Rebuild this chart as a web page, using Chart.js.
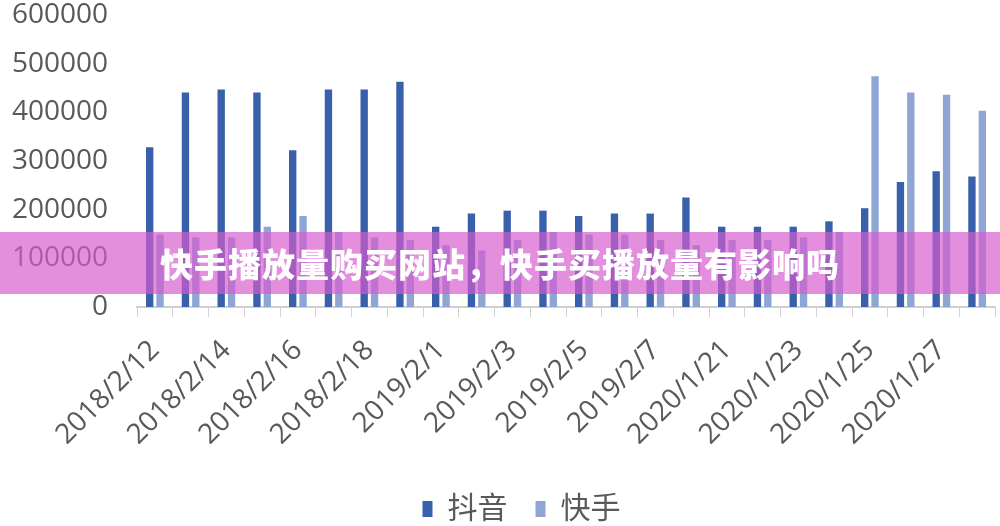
<!DOCTYPE html>
<html>
<head>
<meta charset="utf-8">
<script src="https://cdn.jsdelivr.net/npm/chart.js@4.4.1/dist/chart.umd.min.js"></script>
<style>
  body { margin: 0; background: #fff; }
  .wrap { position: relative; width: 1000px; height: 526px; }
  .banner {
    position: absolute; left: 0; top: 232px; width: 1000px; height: 62px;
    background: rgba(214, 90, 205, 0.68);
    color: #fff; font-family: "Noto Sans CJK SC"; font-weight: 900;
    font-size: 33px; line-height: 62px; padding-left: 160px; box-sizing: border-box;
    letter-spacing: 1px;
  }
</style>
</head>
<body>
<div class="wrap">
  <canvas id="myChart"></canvas>
  <div class="banner">快手播放量购买网站，快手买播放量有影响吗</div>
</div>
<script>
// categories (every other one gets a label)
const dates = [
  '2018/2/12', '2018/2/13', '2018/2/14', '2018/2/15', '2018/2/16', '2018/2/17', '2018/2/18', '2018/2/19',
  '2019/2/1', '2019/2/2', '2019/2/3', '2019/2/4', '2019/2/5', '2019/2/6', '2019/2/7', '2019/2/8',
  '2020/1/21', '2020/1/22', '2020/1/23', '2020/1/24', '2020/1/25', '2020/1/26', '2020/1/27', '2020/1/28'
];
const douyin = [
  328000, 441000, 447000, 441000, 322000, 447000, 447000, 463000,
  165000, 192000, 198000, 198000, 187000, 192000, 192000, 225000,
  165000, 165000, 165000, 176000, 203000, 257000, 279000, 268000
];
const kuaishou = [
  149000, 143000, 143000, 165000, 187000, 154000, 143000, 138000,
  127000, 116000, 138000, 154000, 149000, 149000, 138000, 127000,
  138000, 138000, 143000, 154000, 474000, 441000, 436000, 403000
];
const seriesNames = ['抖音', '快手'];
const yMax = 600000;
const yStep = 100000;

const textColor = '#595959';
const fontFam = '"Open Sans", "Noto Sans CJK SC", sans-serif';

const data = {
  labels: dates,
  datasets: [{
    label: seriesNames[0],
    data: douyin,
    backgroundColor: '#3961ab',
    categoryPercentage: 0.58,
    barPercentage: 0.71
  }, {
    label: seriesNames[1],
    data: kuaishou,
    backgroundColor: '#8fa6d5',
    categoryPercentage: 0.58,
    barPercentage: 0.71
  }]
};

// legend sits a bit right of the page centre in the original
const legendShift = {
  id: 'legendShift',
  afterLayout(chart) {
    chart.legend.left += 48;
  }
};

const config = {
  type: 'bar',
  data: data,
  plugins: [legendShift],
  options: {
    responsive: true,
    maintainAspectRatio: false,
    animation: false,
    layout: { padding: { left: 0, right: 5, top: 0, bottom: -8 } },
    plugins: {
      tooltip: { enabled: false },
      legend: {
        position: 'bottom',
        labels: {
          boxWidth: 10,
          boxHeight: 16,
          padding: 28,
          color: textColor,
          font: { family: fontFam, size: 30 }
        }
      }
    },
    scales: {
      x: {
        // fixed height, and no extra side padding from the rotated labels
        afterFit: function (scale) {
          scale.height = 159;
          scale.paddingLeft = 0;
          scale.paddingRight = 0;
        },
        grid: {
          display: true,
          drawOnChartArea: false,
          drawTicks: true,
          tickLength: 10,
          color: '#d0d0d0',
          offset: true
        },
        border: { display: true, color: '#d0d0d0', width: 2 },
        ticks: {
          autoSkip: false,
          minRotation: 45,
          maxRotation: 45,
          padding: 17,
          color: textColor,
          font: { family: fontFam, size: 28 },
          callback: function (val, i) { return i % 2 === 0 ? dates[i] : ''; }
        }
      },
      y: {
        min: 0,
        max: yMax,
        afterFit: function (scale) {
          scale.width = 137;
          scale.paddingTop = 15;
          scale.paddingBottom = 0;
        },
        grid: { display: false },
        border: { display: false },
        ticks: {
          stepSize: yStep,
          padding: 21,
          color: textColor,
          font: { family: fontFam, size: 28 },
          callback: function (v) { return String(v); }
        }
      }
    }
  }
};

const chart = new Chart(document.getElementById('myChart'), config);
</script>
</body>
</html>
